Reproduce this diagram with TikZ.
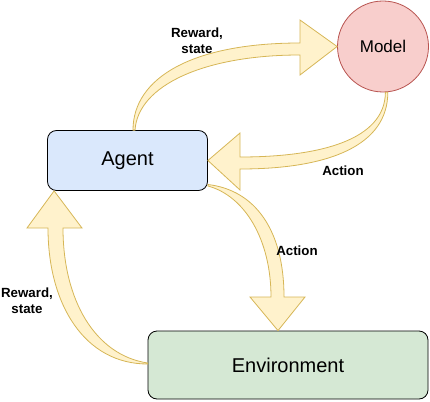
\documentclass[tikz,border=0pt]{standalone}
\usepackage{fontspec}
\setmainfont{Liberation Sans}
\usetikzlibrary{calc}

\definecolor{agentblue}{HTML}{DAE8FC}
\definecolor{envgreen}{HTML}{D5E8D4}
\definecolor{modelred}{HTML}{F8CECC}
\definecolor{modelline}{HTML}{B85450}
\definecolor{arrowfill}{HTML}{FFF2CC}
\definecolor{arrowline}{HTML}{D6B656}

\tikzset{
  block/.style={draw=black,line width=0.8pt,rounded corners=9pt,font=\fontsize{20}{24}\selectfont},
  flexarrow/.style={fill=arrowfill,draw=arrowline,line width=0.8pt,line join=miter},
  lbl/.style={font=\fontsize{13.3}{16}\selectfont\bfseries,align=center}
}

\begin{document}
\begin{tikzpicture}[x=1pt,y=-1pt]
\useasboundingbox (0,0) rectangle (430,401);
% the blocks
\node[block,fill=agentblue,minimum width=160pt,minimum height=60pt] (agent) at (127.5,160.5) {Agent};
\node[draw=modelline,fill=modelred,line width=0.8pt,circle,minimum size=91pt,font=\fontsize{17}{20}\selectfont] (model) at (383,46.5) {Model};
\node[block,fill=envgreen,minimum width=280pt,minimum height=68pt] (env) at (288,365) {Environment};
% the curved arrows
\filldraw[flexarrow] ([xshift=5.5pt]agent.north) .. controls (133,78) and (192,43) .. (300,43)
  -- (300,20) -- (model.west) -- (300,75) -- (300,55)
  .. controls (205,55) and (138,85) .. ([xshift=7.5pt]agent.north) -- cycle;
\filldraw[flexarrow] (model.-84) .. controls (388,145) and (330,169) .. (240,169)
  -- (240,190) -- (agent.east) -- (240,133) -- (240,157)
  .. controls (320,157) and (385,140) .. (model.-87) -- cycle;
\filldraw[flexarrow] ([yshift=-24pt]agent.east) .. controls (255,190) and (284,230) .. (284,297)
  -- (305,297) -- ([xshift=-10pt]env.north) -- (250,297) -- (271,297)
  .. controls (271,240) and (245,196) .. ([yshift=-25.5pt]agent.east) -- cycle;
\filldraw[flexarrow] ([yshift=1pt]env.west) .. controls (85,364) and (48,305) .. (48,228)
  -- (27,228) -- ([xshift=7pt]agent.south west) -- (82,228) -- (63,228)
  .. controls (63,300) and (95,355) .. ([yshift=2pt]env.west) -- cycle;
% the labels
\node[lbl] (rsup) at (197,41) {Reward,\\state};
\node[lbl] (actright) at (343,171) {Action};
\node[lbl] (actdown) at (297,251) {Action};
\node[lbl] (rsleft) at (27,301) {Reward,\\state};
\end{tikzpicture}
\end{document}
